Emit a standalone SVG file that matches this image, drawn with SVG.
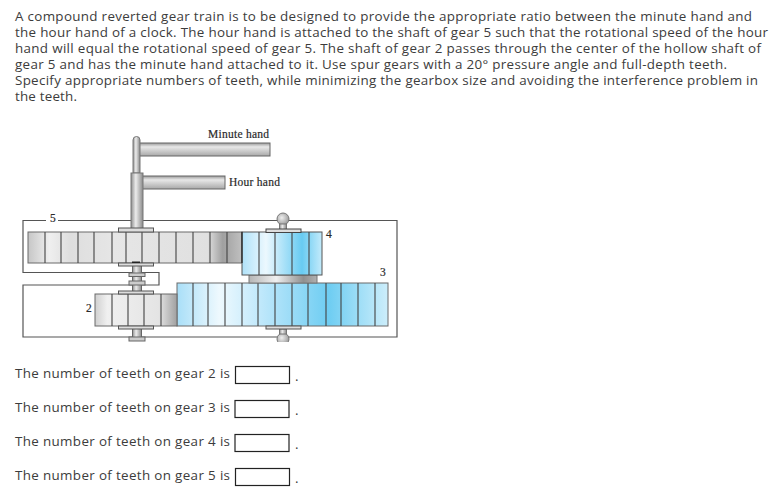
<svg xmlns="http://www.w3.org/2000/svg" width="770" height="497" viewBox="0 0 770 497">
<style>
.t{font-family:"Open Sans","Lato",sans-serif;font-size:13.4px;fill:#3c3c3c}
.l{font-family:"Liberation Serif",serif;font-size:11.5px;fill:#2a2a2a;stroke:#2a2a2a;stroke-width:.2px}
.box{fill:#fff;stroke:#222;stroke-width:1.2}
.frame{fill:none;stroke:#555;stroke-width:1.2}
.tooth{stroke:#444;stroke-width:1.100;fill:none}
</style>
<defs>
<linearGradient id="hv" x1="0" y1="0" x2="0" y2="1"><stop offset="0" stop-color="#9a9a9a"/><stop offset=".3" stop-color="#e8e8e8"/><stop offset="1" stop-color="#a8a8a8"/></linearGradient>
<linearGradient id="sh" x1="0" y1="0" x2="1" y2="0"><stop offset="0" stop-color="#8f8f8f"/><stop offset=".4" stop-color="#ececec"/><stop offset="1" stop-color="#8a8a8a"/></linearGradient>
<linearGradient id="g5" gradientUnits="userSpaceOnUse" x1="28" y1="0" x2="242" y2="0"><stop offset="0" stop-color="#c6c6c6"/><stop offset=".1" stop-color="#efefef"/><stop offset=".2" stop-color="#dedede"/><stop offset=".4" stop-color="#e6e6e6"/><stop offset=".84" stop-color="#e0e0e0"/><stop offset=".91" stop-color="#a0a0a0"/><stop offset="1" stop-color="#c0c0c0"/></linearGradient>
<linearGradient id="g2" gradientUnits="userSpaceOnUse" x1="95" y1="0" x2="177" y2="0"><stop offset="0" stop-color="#d0d0d0"/><stop offset=".15" stop-color="#f0f0f0"/><stop offset=".78" stop-color="#e4e4e4"/><stop offset="1" stop-color="#a0a0a0"/></linearGradient>
<linearGradient id="g3" gradientUnits="userSpaceOnUse" x1="177" y1="0" x2="388" y2="0"><stop offset="0" stop-color="#a9dff8"/><stop offset=".2" stop-color="#eef9fe"/><stop offset=".4" stop-color="#bfe8fb"/><stop offset=".72" stop-color="#6ecdf2"/><stop offset="1" stop-color="#cdeefb"/></linearGradient>
<linearGradient id="g4" gradientUnits="userSpaceOnUse" x1="242" y1="0" x2="322" y2="0"><stop offset="0" stop-color="#b0e2f9"/><stop offset=".3" stop-color="#ecf8fe"/><stop offset=".75" stop-color="#68cbf2"/><stop offset="1" stop-color="#c4ebfb"/></linearGradient>
<linearGradient id="sp" x1="0" y1="0" x2="1" y2="0"><stop offset="0" stop-color="#b5b5b5"/><stop offset=".4" stop-color="#f0f0f0"/><stop offset=".8" stop-color="#909090"/><stop offset="1" stop-color="#b0b0b0"/></linearGradient>
<radialGradient id="kn" cx=".4" cy=".4" r=".7"><stop offset="0" stop-color="#efefef"/><stop offset="1" stop-color="#909090"/></radialGradient>
<clipPath id="cut"><rect x="270" y="325" width="30" height="17"/></clipPath>
</defs>
<g id="statement" class="t">
<text x="15" y="21" textLength="737">A compound reverted gear train is to be designed to provide the appropriate ratio between the minute hand and</text>
<text x="15" y="37" textLength="753">the hour hand of a clock. The hour hand is attached to the shaft of gear 5 such that the rotational speed of the hour</text>
<text x="15" y="53" textLength="746">hand will equal the rotational speed of gear 5. The shaft of gear 2 passes through the center of the hollow shaft of</text>
<text x="15" y="69" textLength="712">gear 5 and has the minute hand attached to it. Use spur gears with a 20° pressure angle and full-depth teeth.</text>
<text x="15" y="85" textLength="743">Specify appropriate numbers of teeth, while minimizing the gearbox size and avoiding the interference problem in</text>
<text x="15" y="101" textLength="62">the teeth.</text>
</g>
<g id="frames">
<path class="frame" d="M46 220.5H23V272.5H159V285H23V337H279M288 337H397V220.5H288M278 220.5H58"/>
</g>
<g id="hands">
<rect x="139" y="143" width="131" height="13" fill="url(#hv)" stroke="#666"/>
<rect x="142" y="176" width="83" height="13" fill="url(#hv)" stroke="#666"/>
<path d="M133 173V140a3.500 3.500 0 0 1 7 0V173Z" fill="url(#sh)" stroke="#777"/>
<rect x="131" y="173" width="12" height="56" fill="url(#sh)" stroke="#777"/>
</g>
<g id="lower-shaft">
<rect x="132.500" y="264" width="9" height="76" fill="url(#sh)" stroke="#666"/>
<rect x="129" y="273" width="16" height="3.500" fill="#ccc" stroke="#666"/>
<rect x="129" y="281" width="16" height="4" fill="#ccc" stroke="#666"/>
<rect x="129" y="337" width="16" height="4" fill="#ccc" stroke="#666"/>
</g>
<g id="gear3">
<rect x="177" y="283" width="211" height="43" fill="url(#g3)" stroke="#6a6a6a"/>
<path class="tooth" d="M193 283V326M208 283V326M225 283V326M242 283V326M258 283V326M275 283V326M292 283V326M308 283V326M326 283V326M341 283V326M358 283V326M375 283V326"/>
</g>
<g id="gear2">
<rect x="95" y="294" width="82" height="32" fill="url(#g2)" stroke="#6a6a6a"/>
<path class="tooth" d="M112 294V326M128 294V326M144 294V326M161 294V326"/>
<rect x="118.500" y="291" width="35" height="3" fill="#ddd" stroke="#555"/>
<rect x="118.500" y="326" width="35" height="3" fill="#ddd" stroke="#555"/>
</g>
<g id="gear5">
<rect x="28" y="232" width="214" height="31" fill="url(#g5)" stroke="#6a6a6a"/>
<path class="tooth" d="M45 232V263M61 232V263M78 232V263M94 232V263M112 232V263M126 232V263M142 232V263M159 232V263M176 232V263M193 232V263M210 232V263M227 232V263"/>
<rect x="118.500" y="228" width="35" height="4" fill="#ddd" stroke="#555"/>
<rect x="118.500" y="263" width="35" height="3" fill="#ddd" stroke="#555"/>
<rect x="132" y="261.500" width="8" height="1.500" fill="#222"/>
</g>
<g id="gear4">
<rect x="249" y="275" width="68" height="8" fill="url(#sp)" stroke="#777"/>
<rect x="242" y="232" width="80" height="43" fill="url(#g4)" stroke="#555"/>
<path class="tooth" d="M259 232V275M275 232V275M292 232V275M309 232V275"/>
<path d="M242 232V263" stroke="#222" stroke-width="1.200"/>
<circle cx="283" cy="219" r="6" fill="url(#kn)" stroke="#777"/>
<rect x="279.500" y="224" width="7" height="6" fill="url(#sh)" stroke="#777"/>
<rect x="266" y="229" width="35" height="3.500" fill="#ddd" stroke="#444"/>
<g clip-path="url(#cut)">
<circle cx="283" cy="339" r="6" fill="url(#kn)" stroke="#777"/>
<rect x="279.500" y="329" width="7" height="5" fill="url(#sh)" stroke="#777"/>
</g>
<rect x="266" y="326" width="35" height="3" fill="#ddd" stroke="#555"/>
</g>
<g id="labels" class="l">
<text x="208" y="138" textLength="61">Minute hand</text>
<text x="229" y="186" textLength="51">Hour hand</text>
<text x="50" y="222">5</text>
<text x="86" y="312">2</text>
<text x="326" y="238">4</text>
<text x="380" y="276">3</text>
</g>
<g id="answers">
<g class="t">
<text x="15" y="378" textLength="215">The number of teeth on gear 2 is</text>
<text x="15" y="412" textLength="215">The number of teeth on gear 3 is</text>
<text x="15" y="446" textLength="215">The number of teeth on gear 4 is</text>
<text x="15" y="480" textLength="215">The number of teeth on gear 5 is</text>
<text x="295" y="381">.</text>
<text x="295" y="415">.</text>
<text x="295" y="449">.</text>
<text x="295" y="483">.</text>
</g>
<rect class="box" x="235.500" y="366.500" width="54" height="17"/>
<rect class="box" x="235" y="400.500" width="54" height="17"/>
<rect class="box" x="235" y="434.500" width="54" height="17"/>
<rect class="box" x="235.500" y="468.500" width="54" height="17"/>
</g>
</svg>
